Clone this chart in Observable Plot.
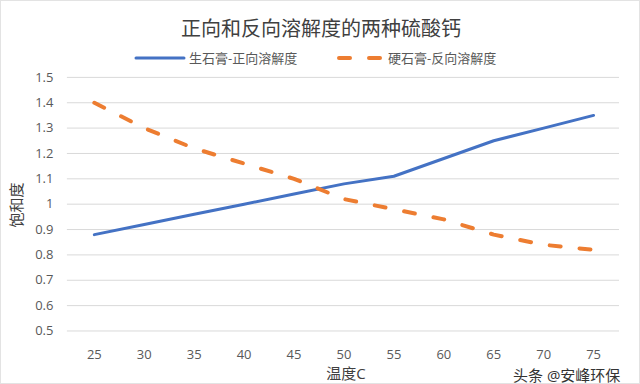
<!DOCTYPE html>
<html>
<head>
<meta charset="utf-8">
<script src="https://cdn.jsdelivr.net/npm/d3@7"></script>
<script src="https://cdn.jsdelivr.net/npm/@observablehq/plot@0.6"></script>
<style>
  html, body { margin: 0; padding: 0; background: #fff; }
  #wrap { position: relative; width: 640px; height: 384px; overflow: hidden; background: #fff;
          font-family: "Open Sans", "Noto Sans CJK SC", sans-serif; box-sizing: border-box; border: 1px solid #e3e3e3; }
  #chart { position: absolute; left: -1px; top: -1px; }
  .abs { position: absolute; white-space: nowrap; }
  #title { left: 0; width: 640px; top: 15px; text-align: center; font-size: 20px; line-height: 26px; color: #404040; }
  .leg { top: 48px; font-size: 13px; line-height: 18px; color: #595959; display: flex; align-items: center; }
  .leg svg { margin-right: 3px; }
  #ylab { left: 15px; top: 204px; font-size: 15px; line-height: 18px; color: #404040; transform: translate(-50%, -50%) rotate(-90deg); }
  #xlab { left: 345px; top: 372px; font-size: 15px; line-height: 18px; color: #404040; transform: translate(-50%, -50%); }
  #wm { left: 512px; top: 374px; font-size: 15px; line-height: 16px; color: #333; transform: translate(0, -50%);
        text-shadow: 0 0 2px #fff, 0 0 2px #fff; }
</style>
</head>
<body>
<div id="wrap">
  <div id="chart"></div>
  <div id="title" class="abs"></div>
  <div id="leg1" class="abs leg"></div>
  <div id="leg2" class="abs leg"></div>
  <div id="ylab" class="abs"></div>
  <div id="xlab" class="abs"></div>
  <div id="wm" class="abs"></div>
</div>
<script>
const titleText = "正向和反向溶解度的两种硫酸钙";
const seriesNames = ["生石膏-正向溶解度", "硬石膏-反向溶解度"];
const yLabel = "饱和度";
const xLabel = "温度C";
const watermark = "头条 @安峰环保";
const temps = [25, 30, 35, 40, 45, 50, 55, 60, 65, 70, 75];
const gypsum = [0.88, 0.92, 0.96, 1.00, 1.04, 1.08, 1.11, 1.18, 1.25, 1.30, 1.35];
const anhydrite = [1.40, 1.30, 1.22, 1.16, 1.10, 1.02, 0.98, 0.94, 0.88, 0.84, 0.82];
const yTicks = [0.5, 0.6, 0.7, 0.8, 0.9, 1.0, 1.1, 1.2, 1.3, 1.4, 1.5];

const blue = "#4472C4", orange = "#ED7D31";
const gData = temps.map((t, i) => ({t, v: gypsum[i]}));
const aData = temps.map((t, i) => ({t, v: anhydrite[i]}));
const fmt = d => String(+d.toFixed(1));

const plot = Plot.plot({
  width: 640, height: 384,
  marginTop: 77, marginBottom: 53, marginLeft: 67, marginRight: 20,
  style: {fontFamily: "'Open Sans','Noto Sans CJK SC',sans-serif", fontSize: "13px", color: "#595959", background: "transparent"},
  x: {type: "point", domain: temps, padding: 0.5},
  y: {domain: [0.5, 1.5]},
  marks: [
    Plot.gridY(yTicks, {stroke: "#d9d9d9", strokeOpacity: 1, strokeWidth: 1}),
    Plot.axisY(yTicks, {tickSize: 0, tickPadding: 14, tickFormat: fmt, label: null, fill: "#595959"}),
    Plot.axisX(temps, {tickSize: 0, tickPadding: 19, label: null, fill: "#595959"}),
    Plot.lineY(gData, {x: "t", y: "v", stroke: blue, strokeWidth: 3, strokeLinecap: "round"}),
    Plot.lineY(aData, {x: "t", y: "v", stroke: orange, strokeWidth: 4, strokeDasharray: "11,19", strokeLinecap: "round"})
  ]
});
document.getElementById("chart").appendChild(plot);

document.getElementById("title").textContent = titleText;
document.getElementById("ylab").textContent = yLabel;
document.getElementById("xlab").textContent = xLabel;
document.getElementById("wm").textContent = watermark;

const leg1 = document.getElementById("leg1");
leg1.style.left = "133px";
leg1.innerHTML = `<svg width="52" height="8"><line x1="2" y1="4" x2="50" y2="4" stroke="${blue}" stroke-width="3" stroke-linecap="round"/></svg><span></span>`;
leg1.querySelector("span").textContent = seriesNames[0];
const leg2 = document.getElementById("leg2");
leg2.style.left = "334px";
leg2.innerHTML = `<svg width="50" height="8"><line x1="4" y1="4" x2="46" y2="4" stroke="${orange}" stroke-width="4" stroke-dasharray="11,19" stroke-linecap="round"/></svg><span></span>`;
leg2.querySelector("span").textContent = seriesNames[1];
</script>
</body>
</html>
